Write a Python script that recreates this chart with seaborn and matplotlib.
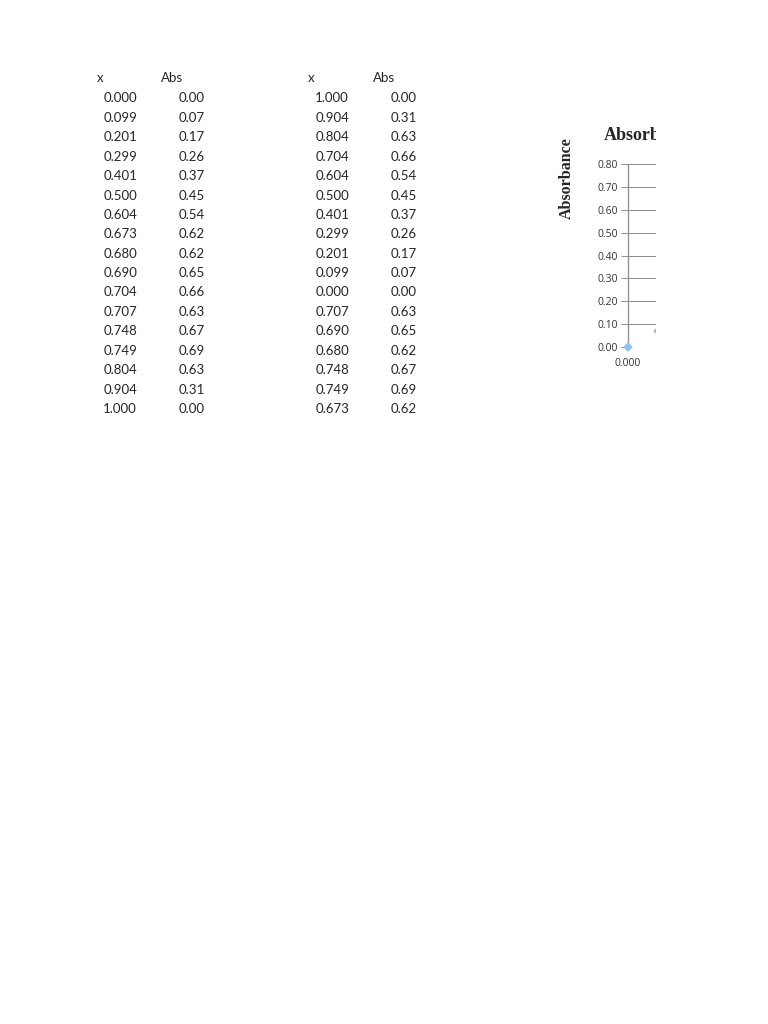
import seaborn as sns
import matplotlib.pyplot as plt
import pandas as pd
from matplotlib.patches import Rectangle

# tabela 1 (varredura crescente)
x_up = [0.000, 0.099, 0.201, 0.299, 0.401, 0.500, 0.604, 0.673, 0.680,
        0.690, 0.704, 0.707, 0.748, 0.749, 0.804, 0.904, 1.000]
abs_up = [0.00, 0.07, 0.17, 0.26, 0.37, 0.45, 0.54, 0.62, 0.62,
          0.65, 0.66, 0.63, 0.67, 0.69, 0.63, 0.31, 0.00]

# tabela 2 (ordem do gráfico)
x_down = [1.000, 0.904, 0.804, 0.704, 0.604, 0.500, 0.401, 0.299, 0.201,
          0.099, 0.000, 0.707, 0.690, 0.680, 0.748, 0.749, 0.673]
abs_down = [0.00, 0.31, 0.63, 0.66, 0.54, 0.45, 0.37, 0.26, 0.17,
            0.07, 0.00, 0.63, 0.65, 0.62, 0.67, 0.69, 0.62]

y_ticks = [0.0, 0.1, 0.2, 0.3, 0.4, 0.5, 0.6, 0.7, 0.8]

W, H = 768, 1024
sns.set_style("white")
fig = plt.figure(figsize=(7.68, 10.24), dpi=100)

table_font = ["Lato", "DejaVu Sans"]


def px(x, y):
    return x / W, 1 - y / H


# tabelas como texto
row0 = 98.5
step = 19.4
for cols, vals_x, vals_a in [((97, 161, 137, 205), x_up, abs_up),
                             ((308, 373, 349, 417), x_down, abs_down)]:
    hx, ha, rx, ra = cols
    fig.text(*px(hx, 78.5), "x", fontsize=9.5, family=table_font, va="center")
    fig.text(*px(ha, 78.5), "Abs", fontsize=9.5, family=table_font, va="center")
    for i, (a, b) in enumerate(zip(vals_x, vals_a)):
        y = row0 + i * step
        fig.text(*px(rx, y), f"{a:.3f}", fontsize=9.5, family=table_font,
                 ha="right", va="center")
        fig.text(*px(ra, y), f"{b:.2f}", fontsize=9.5, family=table_font,
                 ha="right", va="center")

# gráfico (cortado na borda direita da tela)
left, right, top, bottom = 628, 931, 164, 347
ax = fig.add_axes([left / W, 1 - bottom / H, (right - left) / W, (bottom - top) / H])
df = pd.DataFrame({"x": x_up + x_down, "Abs": abs_up + abs_down})
sns.scatterplot(data=df, x="x", y="Abs", ax=ax, marker="D", s=22,
                color="#8ec2f0", edgecolor="none", zorder=3, clip_on=False)
ax.set_xlim(0, 1)
ax.set_ylim(0, 0.8)
ax.set_yticks(y_ticks)
ax.set_yticklabels([f"{t:.2f}" for t in y_ticks])
ax.set_xticks([0.0])
ax.set_xticklabels(["0.000"])
ax.grid(axis="y", color="#8c8c8c", linewidth=0.7)
ax.set_axisbelow(True)
for s in ["top", "right", "bottom"]:
    ax.spines[s].set_visible(False)
ax.spines["left"].set_color("#8c8c8c")
ax.spines["left"].set_linewidth(0.9)
ax.tick_params(axis="y", length=5, width=0.7, color="#8c8c8c", labelsize=7.5,
               labelcolor="#333333", pad=2, left=True)
ax.tick_params(axis="x", length=0, labelsize=7.5, labelcolor="#333333", pad=8)
for lab in ax.get_xticklabels() + ax.get_yticklabels():
    lab.set_family(["Open Sans", "DejaVu Sans"])
ax.set_xlabel("")
ax.set_ylabel("")

fig.text(*px(604, 136), "Absorbance", fontsize=13, fontweight="bold",
         family="Liberation Serif", va="center", ha="left")
fig.text(*px(567, 178), "Absorbance", fontsize=11.5, fontweight="bold",
         family="Liberation Serif", rotation=90, va="center", ha="center")

# a janela da planilha termina aqui
fig.add_artist(Rectangle(px(656, 400), (W - 656) / W, 300 / H,
                         transform=fig.transFigure, facecolor="white",
                         edgecolor="none", zorder=10))

fig.savefig("out.png", dpi=100)
